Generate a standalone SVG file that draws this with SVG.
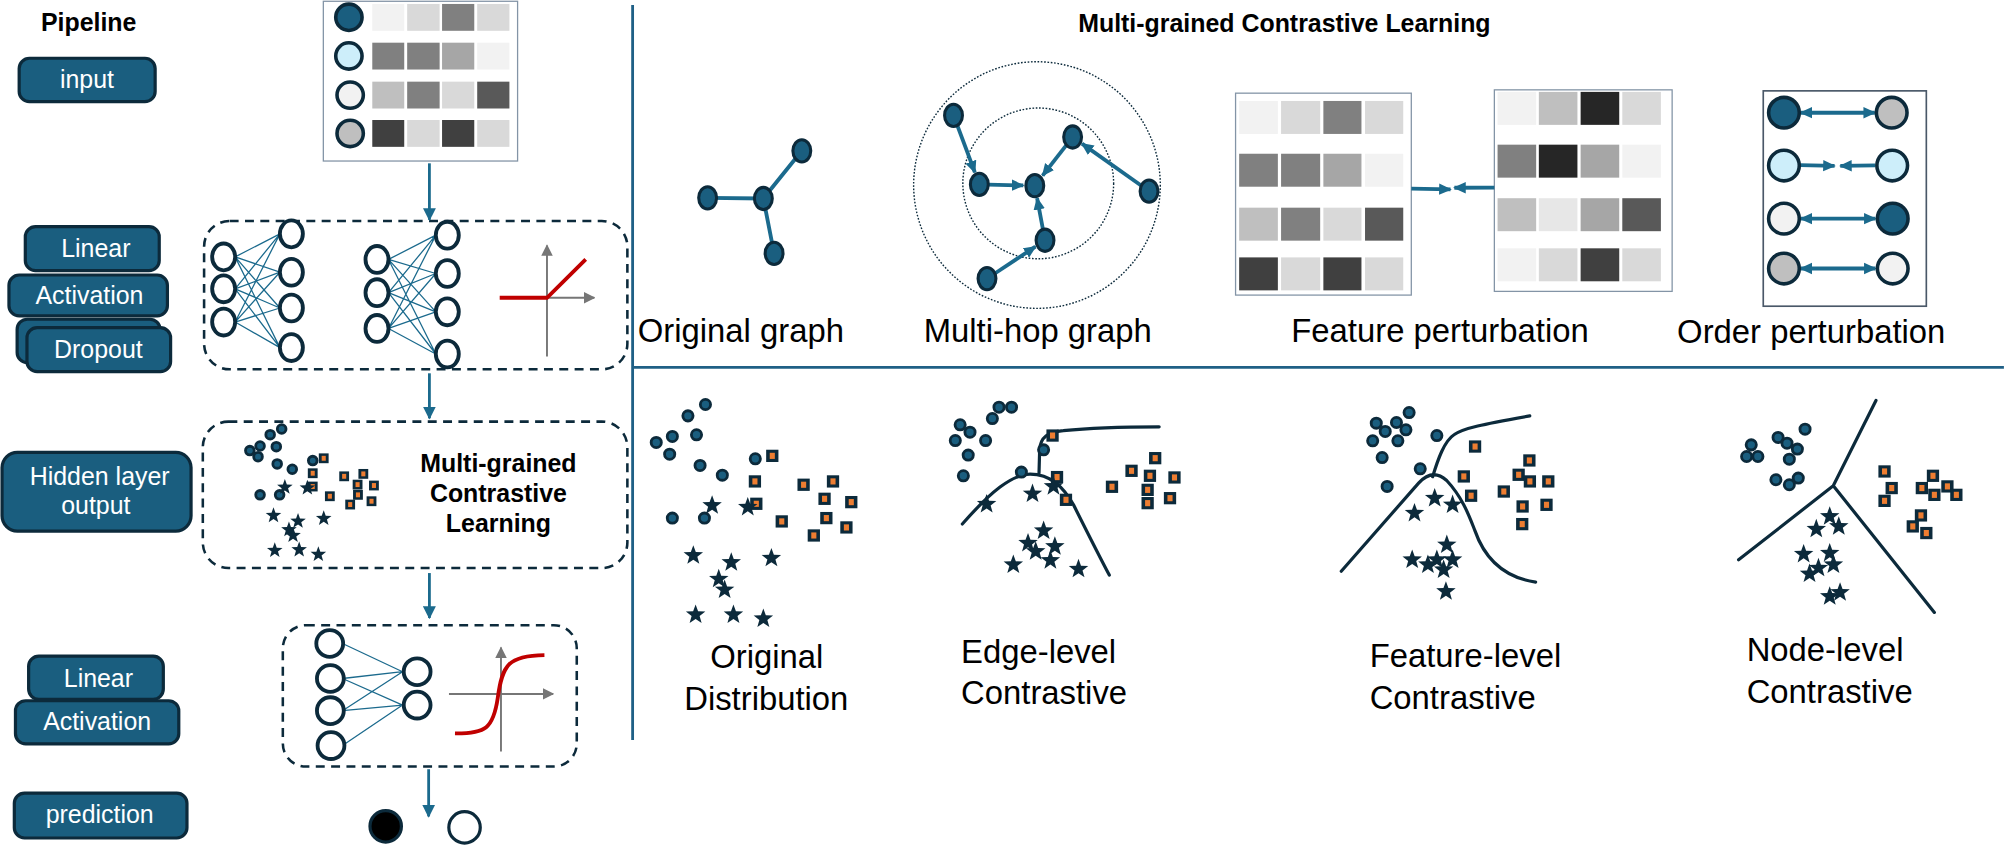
<svg xmlns="http://www.w3.org/2000/svg" xmlns:xlink="http://www.w3.org/1999/xlink" width="2004" height="847" viewBox="0 0 2004 847">
<style>
.t{font-family:"Liberation Sans",Arial,sans-serif}
.lbl{font-size:19.5px;fill:#fff;text-anchor:middle}
.btn{fill:#1a5e7f;stroke:#0c2a3b;stroke-width:2.5}
.dash{fill:none;stroke:#0c2a3b;stroke-width:2;stroke-dasharray:7 5}
.cap{font-size:25.7px;fill:#000}
.bt{font-size:19.5px;font-weight:bold;fill:#000;text-anchor:middle}
.nn{fill:#fff;stroke:#0c2a3b;stroke-width:3}
.wire{stroke:#1b6a8d;stroke-width:1;fill:none}
.flow{stroke:#1b6a8d;stroke-width:2.2;fill:none;marker-end:url(#ah)}
.gn{fill:#1a5e7f;stroke:#0c2a3b;stroke-width:2.4}
.ge{stroke:#1b6a8d;stroke-width:3;fill:none}
.ga{stroke:#1b6a8d;stroke-width:3;fill:none;marker-end:url(#ah2)}
.oa{stroke:#1b6a8d;stroke-width:3;fill:none;marker-end:url(#ah2);marker-start:url(#ah2)}
.oe{stroke:#1b6a8d;stroke-width:3;fill:none;marker-end:url(#ah2)}
.mbox{fill:#fff;stroke:#8394a6;stroke-width:1}
.oc{stroke:#0c2a3b;stroke-width:2.8}
.bnd{fill:none;stroke:#0c2a3b;stroke-width:2.5;stroke-linecap:round}
.dot{fill:#1a5e7f;stroke:#0c2a3b;stroke-width:2.2}
.ax{stroke:#767676;stroke-width:1.5;fill:none;marker-end:url(#gh)}
.relu{stroke:#c00000;stroke-width:3;fill:none}
.div{stroke:#1f6086;stroke-width:2.2}
</style>
<defs>
<marker id="ah" viewBox="0 0 10 10" refX="9" refY="5" markerWidth="4.6" markerHeight="4.6" orient="auto-start-reverse"><path d="M0,0 L10,5 L0,10 z" fill="#1b6a8d"/></marker>
<marker id="ah2" viewBox="0 0 10 10" refX="9" refY="5" markerWidth="3.3" markerHeight="3.3" orient="auto-start-reverse"><path d="M0,0.5 L10,5 L0,9.5 z" fill="#1b6a8d"/></marker>
<marker id="gh" viewBox="0 0 10 10" refX="9" refY="5" markerWidth="6" markerHeight="6" orient="auto"><path d="M0,0 L10,5 L0,10 z" fill="#767676"/></marker>
<path id="star" d="M0,-8 L1.94,-2.67 L7.61,-2.47 L3.14,1.02 L4.70,6.47 L0,3.3 L-4.70,6.47 L-3.14,1.02 L-7.61,-2.47 L-1.94,-2.67 Z" fill="#0c2a3b"/>
<g id="sq"><rect x="-4.8" y="-4.8" width="9.6" height="9.6" fill="#0c2a3b"/><rect x="-2" y="-2.4" width="4" height="4.8" fill="#ed7d31"/></g>
<circle id="dt" r="4" class="dot"/>
</defs>
<rect width="2004" height="847" fill="#fff"/>
<g transform="scale(1.278)">

<!-- dividers -->
<g id="dividers">
<line class="div" x1="495" y1="4" x2="495" y2="579"/>
<line class="div" x1="495" y1="287.5" x2="1568" y2="287.5"/>
</g>

<!-- left pipeline labels -->
<g id="pipeline-title"><text class="t" x="32" y="24" font-size="19.5" font-weight="bold">Pipeline</text></g>
<g id="lbl-input"><rect class="btn" x="15" y="45.6" width="106.4" height="33.9" rx="8"/><text class="t lbl" x="68" y="69">input</text></g>
<g id="lbl-linear1"><rect class="btn" x="19.8" y="177.3" width="104.8" height="34.5" rx="8"/><text class="t lbl" x="75" y="201.3">Linear</text></g>
<g id="lbl-activation1"><rect class="btn" x="7" y="215.2" width="124" height="32" rx="8"/><text class="t lbl" x="70" y="237.9">Activation</text></g>
<g id="lbl-dropout"><rect class="btn" x="13.4" y="249.8" width="111.8" height="34" rx="8"/><rect class="btn" x="21.1" y="256.4" width="112.4" height="34.4" rx="8"/><text class="t lbl" x="77" y="280.4">Dropout</text></g>
<g id="lbl-hidden"><rect class="btn" x="1.6" y="353.9" width="147.9" height="61.7" rx="12"/><text class="t lbl" x="78" y="379.4">Hidden layer</text><text class="t lbl" x="75" y="402.1">output</text></g>
<g id="lbl-linear2"><rect class="btn" x="22.4" y="513.4" width="105.4" height="33.8" rx="8"/><text class="t lbl" x="77" y="537.4">Linear</text></g>
<g id="lbl-activation2"><rect class="btn" x="12.1" y="548.3" width="127.8" height="33.8" rx="8"/><text class="t lbl" x="76" y="571.2">Activation</text></g>
<g id="lbl-prediction"><rect class="btn" x="11.2" y="620.6" width="135.1" height="35.1" rx="8"/><text class="t lbl" x="78" y="644">prediction</text></g>

<!-- input matrix -->
<g id="input-matrix">
<rect class="mbox" x="253" y="1" width="152" height="125"/>
<circle class="oc" cx="273" cy="13.5" r="10.3" fill="#1a5e7f"/>
<circle class="oc" cx="273" cy="43.8" r="10.3" fill="#cdeefa"/>
<circle class="oc" cx="274" cy="74.4" r="10.3" fill="#f2f2f2"/>
<circle class="oc" cx="274" cy="104.4" r="10.3" fill="#bfbfbf"/>
<rect x="291.3" y="3.1" width="25" height="21" fill="#f2f2f2"/><rect x="318.6" y="3.1" width="25.4" height="21" fill="#d9d9d9"/><rect x="345.9" y="3.1" width="25.2" height="21" fill="#808080"/><rect x="373.4" y="3.1" width="25.2" height="21" fill="#d9d9d9"/>
<rect x="291.3" y="33.4" width="25" height="21" fill="#808080"/><rect x="318.6" y="33.4" width="25.4" height="21" fill="#808080"/><rect x="345.9" y="33.4" width="25.2" height="21" fill="#a6a6a6"/><rect x="373.4" y="33.4" width="25.2" height="21" fill="#f2f2f2"/>
<rect x="291.3" y="63.9" width="25" height="21" fill="#bfbfbf"/><rect x="318.6" y="63.9" width="25.4" height="21" fill="#808080"/><rect x="345.9" y="63.9" width="25.2" height="21" fill="#d9d9d9"/><rect x="373.4" y="63.9" width="25.2" height="21" fill="#595959"/>
<rect x="291.3" y="93.9" width="25" height="21" fill="#404040"/><rect x="318.6" y="93.9" width="25.4" height="21" fill="#d9d9d9"/><rect x="345.9" y="93.9" width="25.2" height="21" fill="#404040"/><rect x="373.4" y="93.9" width="25.2" height="21" fill="#d9d9d9"/>
</g>

<!-- hidden block 1 -->
<g id="block-hidden">
<rect class="dash" x="159.7" y="172.9" width="331.2" height="116.1" rx="20"/>
<g class="wire">
<path d="M184,201 L219,183 M184,201 L219,213 M184,201 L219,241 M184,201 L219,272 M184,226 L219,183 M184,226 L219,213 M184,226 L219,241 M184,226 L219,272 M184,252 L219,183 M184,252 L219,213 M184,252 L219,241 M184,252 L219,272"/>
<path d="M304,203 L341,184 M304,203 L341,214 M304,203 L341,244 M304,203 L341,277 M304,229 L341,184 M304,229 L341,214 M304,229 L341,244 M304,229 L341,277 M304,257 L341,184 M304,257 L341,214 M304,257 L341,244 M304,257 L341,277"/>
</g>
<ellipse class="nn" cx="175" cy="201" rx="9" ry="10.5"/><ellipse class="nn" cx="175" cy="226" rx="9" ry="10.5"/><ellipse class="nn" cx="175" cy="252" rx="9" ry="10.5"/>
<ellipse class="nn" cx="228" cy="183" rx="9" ry="10.5"/><ellipse class="nn" cx="228" cy="213" rx="9" ry="10.5"/><ellipse class="nn" cx="228" cy="241" rx="9" ry="10.5"/><ellipse class="nn" cx="228" cy="272" rx="9" ry="10.5"/>
<ellipse class="nn" cx="295" cy="203" rx="9" ry="10.5"/><ellipse class="nn" cx="295" cy="229" rx="9" ry="10.5"/><ellipse class="nn" cx="295" cy="257" rx="9" ry="10.5"/>
<ellipse class="nn" cx="350" cy="184" rx="9" ry="10.5"/><ellipse class="nn" cx="350" cy="214" rx="9" ry="10.5"/><ellipse class="nn" cx="350" cy="244" rx="9" ry="10.5"/><ellipse class="nn" cx="350" cy="277" rx="9" ry="10.5"/>
<line class="ax" x1="428" y1="279" x2="428" y2="192"/>
<line class="ax" x1="392" y1="233" x2="465" y2="233"/>
<path class="relu" d="M391,233 L428,233 L458.3,203"/>
</g>

<!-- hidden layer output block -->
<g id="block-output">
<rect class="dash" x="158.7" y="329.9" width="332.2" height="114.6" rx="20"/>
<circle class="dot" cx="220.4" cy="335.7" r="3.4"/><circle class="dot" cx="211.4" cy="340.1" r="3.4"/><circle class="dot" cx="203.5" cy="349" r="3.4"/><circle class="dot" cx="195.5" cy="352.6" r="3.4"/><circle class="dot" cx="201.9" cy="357.3" r="3.4"/><circle class="dot" cx="216.2" cy="349.5" r="3.4"/><circle class="dot" cx="216.9" cy="363" r="3.4"/><circle class="dot" cx="228.7" cy="367.2" r="3.4"/><circle class="dot" cx="244.7" cy="360.4" r="3.4"/><circle class="dot" cx="203.5" cy="387.2" r="3.4"/><circle class="dot" cx="218.8" cy="387.2" r="3.4"/>
<use href="#sq" transform="translate(253.3,358.6) scale(.8)"/><use href="#sq" transform="translate(244.7,370.3) scale(.8)"/><use href="#sq" transform="translate(244.7,380.7) scale(.8)"/><use href="#sq" transform="translate(258.1,388.3) scale(.8)"/><use href="#sq" transform="translate(269.3,372.7) scale(.8)"/><use href="#sq" transform="translate(284.3,370.8) scale(.8)"/><use href="#sq" transform="translate(279.8,379.2) scale(.8)"/><use href="#sq" transform="translate(292.6,379.9) scale(.8)"/><use href="#sq" transform="translate(280.1,387.2) scale(.8)"/><use href="#sq" transform="translate(290.7,392.2) scale(.8)"/><use href="#sq" transform="translate(274,394.8) scale(.8)"/>
<use href="#star" transform="translate(222.9,381.2) scale(.8)"/><use href="#star" transform="translate(240.5,381.8) scale(.8)"/><use href="#star" transform="translate(214,403.4) scale(.8)"/><use href="#star" transform="translate(233.2,407.8) scale(.8)"/><use href="#star" transform="translate(253.3,405.7) scale(.8)"/><use href="#star" transform="translate(226.1,414.5) scale(.8)"/><use href="#star" transform="translate(229.3,419) scale(.8)"/><use href="#star" transform="translate(215,430.7) scale(.8)"/><use href="#star" transform="translate(234.1,430.2) scale(.8)"/><use href="#star" transform="translate(249.1,433.8) scale(.8)"/>
<text class="t bt" x="390" y="369.5">Multi-grained</text>
<text class="t bt" x="390" y="393">Contrastive</text>
<text class="t bt" x="390" y="416.4">Learning</text>
</g>

<!-- classifier block -->
<g id="block-classifier">
<rect class="dash" x="221.3" y="489.2" width="230" height="110.6" rx="18"/>
<path class="wire" d="M268,503.5 L315,525.6 M268,530.9 L315,525.6 M268,530.9 L315,551.7 M268,556.1 L315,525.6 M268,556.1 L315,551.7 M268,583.4 L315,551.7"/>
<ellipse class="nn" cx="258" cy="503.5" rx="10.5" ry="10.5"/><ellipse class="nn" cx="258.5" cy="530.9" rx="10.5" ry="10.5"/><ellipse class="nn" cx="258.5" cy="556.1" rx="10.5" ry="10.5"/><ellipse class="nn" cx="259" cy="583.4" rx="10.5" ry="10.5"/>
<ellipse class="nn" cx="326.4" cy="525.6" rx="10.5" ry="10.5"/><ellipse class="nn" cx="326.4" cy="551.7" rx="10.5" ry="10.5"/>
<line class="ax" x1="392" y1="588" x2="392" y2="506.7"/>
<line class="ax" x1="351.3" y1="543" x2="432.8" y2="543"/>
<path class="relu" d="M356,573.8 C380,574 386,570 389.5,546 C393,520 398,513 426,512.6"/>
</g>

<!-- prediction -->
<g id="prediction-nodes">
<circle cx="301.8" cy="646.6" r="12.3" fill="#000" stroke="#0c2a3b" stroke-width="2.5"/>
<circle cx="363.5" cy="647.4" r="12.3" fill="#fff" stroke="#0c2a3b" stroke-width="2.5"/>
</g>

<!-- pipeline connectors -->
<g id="connectors">
<line class="flow" x1="336" y1="127.8" x2="336" y2="172"/>
<line class="flow" x1="336" y1="292.1" x2="336" y2="327.3"/>
<line class="flow" x1="336" y1="448.4" x2="336" y2="483.5"/>
<line class="flow" x1="335.4" y1="601.9" x2="335.4" y2="638.8"/>
</g>

<!-- right title -->
<g id="mcl-title"><text class="t" x="1005" y="25" font-size="19.5" font-weight="bold" text-anchor="middle">Multi-grained Contrastive Learning</text></g>

<!-- original graph -->
<g id="original-graph">
<path class="ge" d="M553.7,154.8 L597.3,155.3 L627.4,118 M597.3,155.3 L605.7,198.3"/>
<ellipse class="gn" cx="553.7" cy="154.8" rx="7" ry="8.7"/><ellipse class="gn" cx="597.3" cy="155.3" rx="7" ry="8.7"/><ellipse class="gn" cx="627.4" cy="118" rx="7" ry="8.7"/><ellipse class="gn" cx="605.7" cy="198.3" rx="7" ry="8.7"/>
<text class="t cap" x="499" y="267.5">Original graph</text>
</g>

<!-- multi-hop graph -->
<g id="multihop-graph">
<circle cx="811.4" cy="144.8" r="96.5" fill="none" stroke="#0c2a3b" stroke-width="1.1" stroke-dasharray="1.3 1.3"/>
<circle cx="812.4" cy="143.5" r="59" fill="none" stroke="#0c2a3b" stroke-width="1.1" stroke-dasharray="1.3 1.3"/>
<line class="ga" x1="749.3" y1="98.7" x2="762.8" y2="134.9"/>
<line class="ga" x1="773.3" y1="144.5" x2="800.7" y2="145.1"/>
<line class="ga" x1="834.4" y1="113.5" x2="815.8" y2="137.4"/>
<line class="ga" x1="892.6" y1="145" x2="846.6" y2="112.4"/>
<line class="ga" x1="816" y1="179.1" x2="811.5" y2="155.1"/>
<line class="ga" x1="779" y1="213.6" x2="810.2" y2="193"/>
<ellipse class="gn" cx="746.1" cy="90.3" rx="7" ry="8.7"/><ellipse class="gn" cx="766.3" cy="144.3" rx="7" ry="8.7"/><ellipse class="gn" cx="809.7" cy="145.3" rx="7" ry="8.7"/><ellipse class="gn" cx="839.3" cy="107.2" rx="7" ry="8.7"/><ellipse class="gn" cx="899.1" cy="149.6" rx="7" ry="8.7"/><ellipse class="gn" cx="817.7" cy="188" rx="7" ry="8.7"/><ellipse class="gn" cx="772.3" cy="218" rx="7" ry="8.7"/>
<text class="t cap" x="812" y="267.5" text-anchor="middle">Multi-hop graph</text>
</g>

<!-- feature perturbation -->
<g id="feature-perturbation">
<rect class="mbox" x="966.8" y="72.9" width="137.5" height="158"/>
<rect x="969.6" y="79" width="30.3" height="25.8" fill="#f2f2f2"/><rect x="1002.4" y="79" width="30.6" height="25.8" fill="#d9d9d9"/><rect x="1035.5" y="79" width="29.8" height="25.8" fill="#808080"/><rect x="1068.1" y="79" width="29.9" height="25.8" fill="#d9d9d9"/>
<rect x="969.6" y="120.3" width="30.3" height="25.8" fill="#808080"/><rect x="1002.4" y="120.3" width="30.6" height="25.8" fill="#808080"/><rect x="1035.5" y="120.3" width="29.8" height="25.8" fill="#a6a6a6"/><rect x="1068.1" y="120.3" width="29.9" height="25.8" fill="#f2f2f2"/>
<rect x="969.6" y="162.5" width="30.3" height="25.8" fill="#bfbfbf"/><rect x="1002.4" y="162.5" width="30.6" height="25.8" fill="#808080"/><rect x="1035.5" y="162.5" width="29.8" height="25.8" fill="#d9d9d9"/><rect x="1068.1" y="162.5" width="29.9" height="25.8" fill="#595959"/>
<rect x="969.6" y="201.4" width="30.3" height="25.8" fill="#404040"/><rect x="1002.4" y="201.4" width="30.6" height="25.8" fill="#d9d9d9"/><rect x="1035.5" y="201.4" width="29.8" height="25.8" fill="#404040"/><rect x="1068.1" y="201.4" width="29.9" height="25.8" fill="#d9d9d9"/>
<rect class="mbox" x="1169.3" y="70.3" width="139.1" height="157.7"/>
<rect x="1171.8" y="71.9" width="30.2" height="25.8" fill="#f2f2f2"/><rect x="1204.1" y="71.9" width="30.2" height="25.8" fill="#bfbfbf"/><rect x="1236.8" y="71.9" width="30.2" height="25.8" fill="#262626"/><rect x="1269.4" y="71.9" width="30.2" height="25.8" fill="#d9d9d9"/>
<rect x="1171.8" y="113.2" width="30.2" height="25.8" fill="#808080"/><rect x="1204.1" y="113.2" width="30.2" height="25.8" fill="#262626"/><rect x="1236.8" y="113.2" width="30.2" height="25.8" fill="#a6a6a6"/><rect x="1269.4" y="113.2" width="30.2" height="25.8" fill="#f2f2f2"/>
<rect x="1171.8" y="155.1" width="30.2" height="25.8" fill="#bfbfbf"/><rect x="1204.1" y="155.1" width="30.2" height="25.8" fill="#e7e7e7"/><rect x="1236.8" y="155.1" width="30.2" height="25.8" fill="#a6a6a6"/><rect x="1269.4" y="155.1" width="30.2" height="25.8" fill="#595959"/>
<rect x="1171.8" y="194.3" width="30.2" height="25.8" fill="#f2f2f2"/><rect x="1204.1" y="194.3" width="30.2" height="25.8" fill="#d9d9d9"/><rect x="1236.8" y="194.3" width="30.2" height="25.8" fill="#404040"/><rect x="1269.4" y="194.3" width="30.2" height="25.8" fill="#d9d9d9"/>
<line class="ga" x1="1104.3" y1="147.6" x2="1135" y2="148.2"/>
<line class="ga" x1="1169.3" y1="146.8" x2="1138" y2="146.9"/>
<text class="t cap" x="1010.4" y="267.5">Feature perturbation</text>
</g>

<!-- order perturbation -->
<g id="order-perturbation">
<rect x="1379.7" y="71.1" width="127.6" height="168.5" fill="#fff" stroke="#4a5868" stroke-width="1.3"/>
<line class="oa" x1="1409" y1="88.2" x2="1467" y2="88.2"/>
<line class="oe" x1="1408.5" y1="129.2" x2="1435.5" y2="129.8"/>
<line class="oe" x1="1467.5" y1="129.4" x2="1440" y2="129.8"/>
<line class="oa" x1="1409" y1="171.1" x2="1467.5" y2="171.1"/>
<line class="oa" x1="1409" y1="210.1" x2="1467.5" y2="210.1"/>
<circle class="oc" cx="1395.9" cy="88.2" r="12" fill="#1a5e7f"/><circle class="oc" cx="1480.2" cy="88.2" r="12" fill="#bfbfbf"/>
<circle class="oc" cx="1395.9" cy="129.5" r="12" fill="#cdeefa"/><circle class="oc" cx="1480.6" cy="129.5" r="12" fill="#cdeefa"/>
<circle class="oc" cx="1395.9" cy="171.1" r="12" fill="#f2f2f2"/><circle class="oc" cx="1481" cy="171.1" r="12" fill="#1a5e7f"/>
<circle class="oc" cx="1395.9" cy="210.1" r="12" fill="#bfbfbf"/><circle class="oc" cx="1481" cy="210.1" r="12" fill="#f2f2f2"/>
<text class="t cap" x="1312.3" y="268.5">Order perturbation</text>
</g>

<!-- original distribution -->
<g id="original-distribution">
<use href="#dt" x="552" y="316.5"/><use href="#dt" x="538.3" y="325.4"/><use href="#dt" x="526.1" y="341.5"/><use href="#dt" x="513.5" y="346.2"/><use href="#dt" x="545" y="340.2"/><use href="#dt" x="524" y="355.4"/><use href="#dt" x="547.8" y="364.2"/><use href="#dt" x="565.2" y="371.8"/><use href="#dt" x="591" y="359"/><use href="#dt" x="526.1" y="405.4"/><use href="#dt" x="551.2" y="405.4"/>
<use href="#sq" x="604.3" y="356.7"/><use href="#sq" x="590.7" y="376.7"/><use href="#sq" x="591.8" y="394.2"/><use href="#sq" x="628.8" y="379.3"/><use href="#sq" x="651.8" y="376.7"/><use href="#sq" x="645.2" y="390.3"/><use href="#sq" x="666.1" y="392.9"/><use href="#sq" x="611.7" y="408"/><use href="#sq" x="646.6" y="405.4"/><use href="#sq" x="662.3" y="412.7"/><use href="#sq" x="636.8" y="419"/>
<use href="#star" x="557.2" y="395.5"/><use href="#star" x="585.1" y="396.8"/><use href="#star" x="542.5" y="434.6"/><use href="#star" x="572.2" y="440.1"/><use href="#star" x="603.6" y="436.7"/><use href="#star" x="562.4" y="453.1"/><use href="#star" x="567" y="461.5"/><use href="#star" x="544.3" y="481"/><use href="#star" x="573.9" y="481"/><use href="#star" x="597.3" y="484.1"/>
<text class="t cap" x="600" y="522.7" text-anchor="middle">Original</text>
<text class="t cap" x="599.6" y="555.3" text-anchor="middle">Distribution</text>
</g>

<!-- edge-level -->
<g id="edge-level">
<path class="bnd" d="M813,370 L813.5,352 C814,342 820,338 832,337 C860,334 885,334 907,334"/>
<path class="bnd" d="M753,410 C775,385 792,371 806,371 C822,371 832,381 840,395 C850,415 860,435 868,450"/>
<use href="#dt" x="781.7" y="318.6"/><use href="#dt" x="791.5" y="318.6"/><use href="#dt" x="776.5" y="327.5"/><use href="#dt" x="751.3" y="332.4"/><use href="#dt" x="759" y="338.2"/><use href="#dt" x="747.5" y="344.7"/><use href="#dt" x="771.2" y="344.7"/><use href="#dt" x="757.6" y="356.1"/><use href="#dt" x="753.8" y="372.3"/><use href="#dt" x="816.6" y="352"/><use href="#dt" x="799.2" y="369.4"/>
<use href="#sq" x="823.6" y="340.8"/><use href="#sq" x="827.1" y="373.3"/><use href="#sq" x="834.1" y="391.1"/><use href="#sq" x="903.9" y="358.5"/><use href="#sq" x="885.4" y="368.4"/><use href="#sq" x="899.8" y="372.3"/><use href="#sq" x="919" y="373.6"/><use href="#sq" x="870.1" y="380.9"/><use href="#sq" x="898" y="383.3"/><use href="#sq" x="915.5" y="389.8"/><use href="#sq" x="898" y="393.7"/>
<use href="#star" x="772" y="394.5"/><use href="#star" x="807.9" y="386.4"/><use href="#star" x="824.3" y="380.6"/><use href="#star" x="816.6" y="415.3"/><use href="#star" x="804.4" y="425"/><use href="#star" x="825.4" y="427.6"/><use href="#star" x="810.4" y="431.5"/><use href="#star" x="821.9" y="438.5"/><use href="#star" x="792.9" y="441.9"/><use href="#star" x="843.9" y="445.3"/>
<text class="t cap" x="752" y="518.8">Edge-level</text>
<text class="t cap" x="752" y="550.9">Contrastive</text>
</g>

<!-- feature-level -->
<g id="feature-level">
<path class="bnd" d="M1121,373 C1125,360 1130,345 1138,340 C1145,335 1160,332 1197,325.4"/>
<path class="bnd" d="M1049.5,447 L1110,378 Q1121,366 1132,376 C1145,390 1150,405 1154,415 C1162,438 1178,452 1201.6,455.5"/>
<use href="#dt" x="1102.6" y="322.8"/><use href="#dt" x="1076.9" y="331.1"/><use href="#dt" x="1092.7" y="330.6"/><use href="#dt" x="1083.9" y="337.6"/><use href="#dt" x="1100.1" y="336.3"/><use href="#dt" x="1074.1" y="344.9"/><use href="#dt" x="1093.8" y="344.9"/><use href="#dt" x="1081.5" y="358"/><use href="#dt" x="1111.3" y="366.8"/><use href="#dt" x="1085.4" y="380.6"/><use href="#dt" x="1124.3" y="340.8"/>
<use href="#sq" x="1154.2" y="349.4"/><use href="#sq" x="1196.7" y="360.3"/><use href="#sq" x="1145.4" y="372.8"/><use href="#sq" x="1188.3" y="371.5"/><use href="#sq" x="1197.1" y="376.7"/><use href="#sq" x="1211.5" y="376.7"/><use href="#sq" x="1151.1" y="387.9"/><use href="#sq" x="1176.7" y="384.6"/><use href="#sq" x="1191.4" y="396.3"/><use href="#sq" x="1210.1" y="395"/><use href="#sq" x="1191.1" y="410.1"/>
<use href="#star" x="1122.6" y="389.8"/><use href="#star" x="1136.6" y="395"/><use href="#star" x="1106.8" y="401.5"/><use href="#star" x="1132.1" y="426.3"/><use href="#star" x="1105" y="438"/><use href="#star" x="1117.3" y="441.9"/><use href="#star" x="1124.3" y="438"/><use href="#star" x="1136.6" y="438"/><use href="#star" x="1129.6" y="445.8"/><use href="#star" x="1131.4" y="462.8"/>
<text class="t cap" x="1071.7" y="522.2">Feature-level</text>
<text class="t cap" x="1071.7" y="554.8">Contrastive</text>
</g>

<!-- node-level -->
<g id="node-level">
<path class="bnd" d="M1467.9,313.4 L1434.5,380.1 L1360.4,438 M1434.5,380.1 L1513.6,479.2"/>
<use href="#dt" x="1412.4" y="335.8"/><use href="#dt" x="1391.3" y="342.3"/><use href="#dt" x="1398.3" y="346.8"/><use href="#dt" x="1406.4" y="351.4"/><use href="#dt" x="1370.3" y="348.1"/><use href="#dt" x="1366.7" y="357.2"/><use href="#dt" x="1375.5" y="357.2"/><use href="#dt" x="1400.1" y="359.3"/><use href="#dt" x="1389.6" y="375.4"/><use href="#dt" x="1400.1" y="379.3"/><use href="#dt" x="1407.1" y="374.1"/>
<use href="#sq" x="1474.6" y="368.9"/><use href="#sq" x="1480.2" y="381.9"/><use href="#sq" x="1474.6" y="391.9"/><use href="#sq" x="1512.5" y="372.3"/><use href="#sq" x="1503.8" y="381.9"/><use href="#sq" x="1513.6" y="387.2"/><use href="#sq" x="1523.8" y="380.6"/><use href="#sq" x="1530.8" y="387.2"/><use href="#sq" x="1503.1" y="403.3"/><use href="#sq" x="1496.7" y="411.9"/><use href="#sq" x="1507.3" y="417.1"/>
<use href="#star" x="1431.7" y="404.1"/><use href="#star" x="1421.2" y="414"/><use href="#star" x="1438.8" y="411.9"/><use href="#star" x="1411.3" y="433.6"/><use href="#star" x="1431.7" y="432.8"/><use href="#star" x="1422.9" y="444.5"/><use href="#star" x="1434.6" y="441.9"/><use href="#star" x="1415.9" y="449"/><use href="#star" x="1431.7" y="466.7"/><use href="#star" x="1439.8" y="463.6"/>
<text class="t cap" x="1366.7" y="517.5">Node-level</text>
<text class="t cap" x="1366.7" y="550.1">Contrastive</text>
</g>

</g>
</svg>
